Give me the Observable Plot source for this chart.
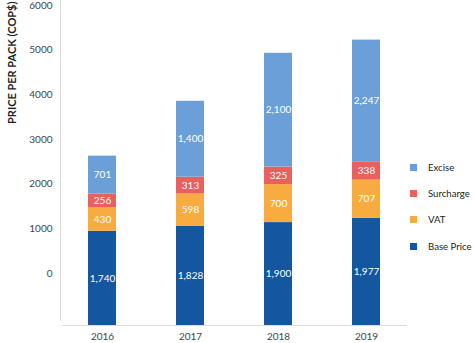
<!DOCTYPE html>
<html>
<head>
<meta charset="utf-8">
<script src="https://cdn.jsdelivr.net/npm/d3@7"></script>
<script src="https://cdn.jsdelivr.net/npm/@observablehq/plot@0.6"></script>
<style>
  body { margin: 0; background: #fff; font-family: Lato, "Open Sans", sans-serif; }
  #wrap { position: relative; width: 474px; height: 343px; overflow: hidden; }
  #legend { position: absolute; left: 410px; top: 154px; font-size: 9.6px; color: #222; white-space: nowrap; }
  #legend .row { display: flex; align-items: center; height: 26.4px; }
  #legend .sw { width: 7px; height: 7px; margin-right: 11px; flex: none; }
</style>
</head>
<body>
<div id="wrap"></div>
<script>
const years = ["2016", "2017", "2018", "2019"];
const basePrice = [1740, 1828, 1900, 1977];
const vat = [430, 598, 700, 707];
const surcharge = [256, 313, 325, 338];
const excise = [701, 1400, 2100, 2247];
const components = ["Excise", "Surcharge", "VAT", "Base Price"];
const colors = ["#6b9fd8", "#ec5f5f", "#f8ac40", "#1556a0"];
const yTickLabels = [0, 1000, 2000, 3000, 4000, 5000, 6000];

const series = {"Base Price": basePrice, "VAT": vat, "Surcharge": surcharge, "Excise": excise};
const rows = [];
for (const c of ["Base Price", "VAT", "Surcharge", "Excise"]) {
  years.forEach((yr, i) => rows.push({year: yr, component: c, value: series[c][i]}));
}
const stackOrder = ["Base Price", "VAT", "Surcharge", "Excise"];

// The source chart's tick labels are offset/compressed relative to the bars.
const tickPos = d3.scaleLinear([0, 6000], [960, 5907]);

const chart = Plot.plot({
  width: 474,
  height: 343,
  marginLeft: 60,
  marginRight: 67,
  marginTop: 0,
  marginBottom: 18,
  style: {fontFamily: "Lato, 'Open Sans', sans-serif", fontSize: "10px", color: "#444", background: "#fff"},
  x: {domain: years, paddingInner: 0.683, paddingOuter: 0.306, label: null},
  y: {domain: [0, 6000], label: null},
  color: {domain: components, range: colors},
  marks: [
    Plot.frame({anchor: "left", stroke: "#ddd", insetBottom: 5}),
    Plot.barY(rows, Plot.stackY({x: "year", y: "value", fill: "component", order: stackOrder})),
    Plot.text(rows, Plot.stackY({x: "year", y: "value", z: "component", order: stackOrder,
      text: d => d3.format(",")(d.value), fill: "white", fontSize: 10})),
    Plot.ruleY([0], {stroke: "#ddd", insetLeft: 2}),
    Plot.axisY(yTickLabels.map(tickPos), {tickSize: 0, tickPadding: 8,
      tickFormat: v => String(Math.round(tickPos.invert(v))), label: null, fill: "#444"}),
    Plot.axisX({tickSize: 0, tickPadding: 7, label: null, fill: "#444"}),
    Plot.text(["PRICE PER PACK (COP$)"], {frameAnchor: "top-left", rotate: -90, textAnchor: "end",
      dx: -52, dy: 1, fontSize: 11, fontWeight: "bold", fill: "#222"})
  ]
});

const wrap = document.getElementById("wrap");
wrap.appendChild(chart);
const legend = document.createElement("div");
legend.id = "legend";
components.forEach((c, i) => {
  const r = document.createElement("div");
  r.className = "row";
  r.innerHTML = `<span class="sw" style="background:${colors[i]}"></span><span>${c}</span>`;
  legend.appendChild(r);
});
wrap.appendChild(legend);
</script>
</body>
</html>
